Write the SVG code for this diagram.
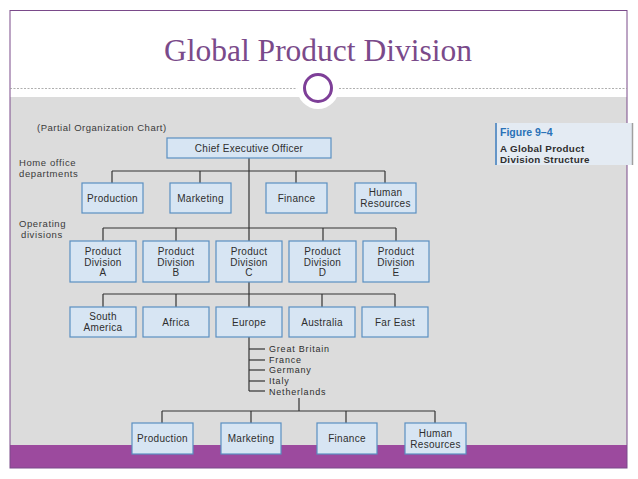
<svg xmlns="http://www.w3.org/2000/svg" width="638" height="479" viewBox="0 0 638 479">
<style>
.box{fill:#d7e5f3;stroke:#5a8fc2;stroke-width:1.2}
.lbl{font-family:"Liberation Sans",Arial,sans-serif;font-size:10px;fill:#2e2e2e;text-anchor:middle;letter-spacing:0.3px}
.side{font-family:"Liberation Sans",Arial,sans-serif;font-size:9.5px;fill:#3a3a3a;letter-spacing:0.6px}
.list{font-family:"Liberation Sans",Arial,sans-serif;font-size:9px;fill:#2e2e2e;letter-spacing:0.8px}
.conn line{stroke:#333;stroke-width:1.2}
</style>
<rect x="0" y="0" width="638" height="479" fill="#ffffff"/>
<g id="frame">
<rect x="10" y="97" width="617" height="349" fill="#dcdcdc"/>
<rect x="10" y="445" width="617" height="23" fill="#9c4a9e"/>
<rect x="10" y="10.5" width="617" height="457.5" fill="none" stroke="#7a4a8a" stroke-width="1"/>
<line x1="10" y1="88.5" x2="627" y2="88.5" stroke="#9a9a9a" stroke-width="0.8" stroke-dasharray="2,1.5"/>
<circle cx="318" cy="88" r="21" fill="#ffffff"/>
<circle cx="318" cy="88" r="13.5" fill="#ffffff" stroke="#7e3f98" stroke-width="3"/>
</g>
<text id="title" x="318" y="61" font-family="'Liberation Serif',Georgia,serif" font-size="31.5" fill="#7a4a8a" text-anchor="middle">Global Product Division</text>
<text x="37" y="131" class="side" style="letter-spacing:0.5px">(Partial Organization Chart)</text>
<text x="19" y="166" class="side">Home office</text>
<text x="19" y="177" class="side">departments</text>
<text x="19" y="227" class="side">Operating</text>
<text x="21" y="238" class="side">divisions</text>
<g id="caption">
<rect x="495" y="123" width="138" height="42" fill="#e4ebf3"/>
<line x1="496" y1="123" x2="496" y2="165" stroke="#3a78b8" stroke-width="1.5"/>
<line x1="632.5" y1="123" x2="632.5" y2="165" stroke="#a0a0a0" stroke-width="1.5"/>
<text x="500" y="136" font-family="'Liberation Sans',Arial,sans-serif" font-size="10.5" font-weight="bold" fill="#2a72b8">Figure 9–4</text>
<text x="500" y="151.5" font-family="'Liberation Sans',Arial,sans-serif" font-size="9.8" font-weight="bold" fill="#2e2e2e" letter-spacing="0.3">A Global Product</text>
<text x="500" y="162.5" font-family="'Liberation Sans',Arial,sans-serif" font-size="9.8" font-weight="bold" fill="#2e2e2e" letter-spacing="0.3">Division Structure</text>
</g>
<g id="connectors" class="conn">
<line x1="249" y1="158" x2="249" y2="241"/>
<line x1="112" y1="171" x2="385" y2="171"/>
<line x1="112" y1="171" x2="112" y2="183"/>
<line x1="200" y1="171" x2="200" y2="183"/>
<line x1="296" y1="171" x2="296" y2="183"/>
<line x1="385" y1="171" x2="385" y2="183"/>
<line x1="103" y1="228" x2="396" y2="228"/>
<line x1="103" y1="228" x2="103" y2="241"/>
<line x1="176" y1="228" x2="176" y2="241"/>
<line x1="323" y1="228" x2="323" y2="241"/>
<line x1="396" y1="228" x2="396" y2="241"/>
<line x1="249" y1="282" x2="249" y2="307"/>
<line x1="103" y1="294" x2="395" y2="294"/>
<line x1="103" y1="294" x2="103" y2="307"/>
<line x1="176" y1="294" x2="176" y2="307"/>
<line x1="322" y1="294" x2="322" y2="307"/>
<line x1="395" y1="294" x2="395" y2="307"/>
<line x1="249" y1="337" x2="249" y2="391"/>
<line x1="249" y1="349" x2="265" y2="349"/>
<line x1="249" y1="360" x2="265" y2="360"/>
<line x1="249" y1="370" x2="265" y2="370"/>
<line x1="249" y1="381" x2="265" y2="381"/>
<line x1="249" y1="391" x2="265" y2="391"/>
<line x1="299" y1="398" x2="299" y2="411"/>
<line x1="162" y1="411" x2="435" y2="411"/>
<line x1="162" y1="411" x2="162" y2="423"/>
<line x1="251" y1="411" x2="251" y2="423"/>
<line x1="346" y1="411" x2="346" y2="423"/>
<line x1="435" y1="411" x2="435" y2="423"/>
</g>
<g id="europe-list">
<text x="269" y="352" class="list">Great Britain</text>
<text x="269" y="363" class="list">France</text>
<text x="269" y="373" class="list">Germany</text>
<text x="269" y="384" class="list">Italy</text>
<text x="269" y="395" class="list">Netherlands</text>
</g>
<g id="ceo"><rect class="box" x="167" y="138" width="164" height="20"/><text class="lbl" x="249" y="151.5">Chief Executive Officer</text></g>
<g id="home-production"><rect class="box" x="82" y="183" width="61" height="30"/><text class="lbl" x="112.5" y="201.5">Production</text></g>
<g id="home-marketing"><rect class="box" x="170" y="183" width="61" height="30"/><text class="lbl" x="200.5" y="201.5">Marketing</text></g>
<g id="home-finance"><rect class="box" x="266" y="183" width="61" height="30"/><text class="lbl" x="296.5" y="201.5">Finance</text></g>
<g id="home-hr"><rect class="box" x="355" y="183" width="61" height="30"/><text class="lbl" x="385.5" y="196">Human</text><text class="lbl" x="385.5" y="207">Resources</text></g>
<g id="pd-a"><rect class="box" x="70" y="241" width="66" height="41"/><text class="lbl" x="103" y="254.5">Product</text><text class="lbl" x="103" y="265.5">Division</text><text class="lbl" x="103" y="276">A</text></g>
<g id="pd-b"><rect class="box" x="143" y="241" width="66" height="41"/><text class="lbl" x="176" y="254.5">Product</text><text class="lbl" x="176" y="265.5">Division</text><text class="lbl" x="176" y="276">B</text></g>
<g id="pd-c"><rect class="box" x="216" y="241" width="66" height="41"/><text class="lbl" x="249" y="254.5">Product</text><text class="lbl" x="249" y="265.5">Division</text><text class="lbl" x="249" y="276">C</text></g>
<g id="pd-d"><rect class="box" x="289" y="241" width="67" height="41"/><text class="lbl" x="322.5" y="254.5">Product</text><text class="lbl" x="322.5" y="265.5">Division</text><text class="lbl" x="322.5" y="276">D</text></g>
<g id="pd-e"><rect class="box" x="363" y="241" width="66" height="41"/><text class="lbl" x="396" y="254.5">Product</text><text class="lbl" x="396" y="265.5">Division</text><text class="lbl" x="396" y="276">E</text></g>
<g id="south-america"><rect class="box" x="70" y="307" width="66" height="30"/><text class="lbl" x="103" y="319.5">South</text><text class="lbl" x="103" y="330.5">America</text></g>
<g id="africa"><rect class="box" x="143" y="307" width="66" height="30"/><text class="lbl" x="176" y="325.5">Africa</text></g>
<g id="europe"><rect class="box" x="216" y="307" width="66" height="30"/><text class="lbl" x="249" y="325.5">Europe</text></g>
<g id="australia"><rect class="box" x="289" y="307" width="66" height="30"/><text class="lbl" x="322" y="325.5">Australia</text></g>
<g id="far-east"><rect class="box" x="362" y="307" width="66" height="30"/><text class="lbl" x="395" y="325.5">Far East</text></g>
<g id="eu-production"><rect class="box" x="132" y="423" width="61" height="31"/><text class="lbl" x="162.5" y="442">Production</text></g>
<g id="eu-marketing"><rect class="box" x="221" y="423" width="60" height="31"/><text class="lbl" x="251" y="442">Marketing</text></g>
<g id="eu-finance"><rect class="box" x="317" y="423" width="60" height="31"/><text class="lbl" x="347" y="442">Finance</text></g>
<g id="eu-hr"><rect class="box" x="405" y="423" width="61" height="31"/><text class="lbl" x="435.5" y="436.5">Human</text><text class="lbl" x="435.5" y="447.5">Resources</text></g>
</svg>
